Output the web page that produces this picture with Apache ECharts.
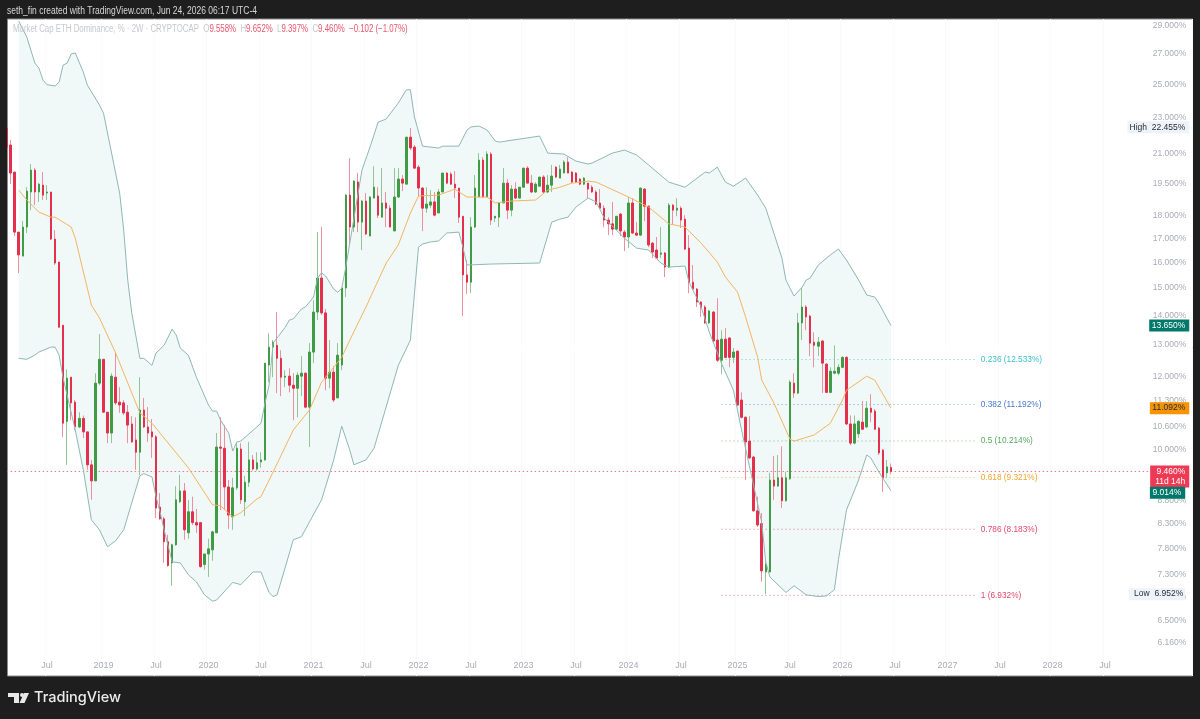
<!DOCTYPE html>
<html>
<head>
<meta charset="utf-8">
<title>ETH Dominance</title>
<script src="https://cdn.jsdelivr.net/npm/echarts@6/dist/echarts.min.js"></script>
<style>html,body{margin:0;padding:0;background:#1e1e1e}#chart{width:1200px;height:719px}</style>
</head>
<body>
<div id="chart"></div>
<script>
// Two-week bars of ETH dominance, in percent
const opens = [22.40,21.48,20.07,17.26,16.25,17.48,19.09,20.17,19.09,19.42,
19.04,19.09,16.96,16.01,13.66,10.73,11.99,11.26,10.58,10.81,
10.45,9.62,9.24,11.81,12.54,10.98,10.42,11.99,11.26,11.24,
10.98,10.66,10.24,9.93,11.04,10.58,10.45,10.32,8.65,8.40,
7.93,7.52,7.87,8.77,9.01,8.11,8.55,8.32,8.32,7.49,
7.69,7.77,8.11,10.06,10.03,9.10,8.44,9.08,10.01,8.77,
9.21,9.74,9.52,9.69,9.74,12.36,12.93,12.99,12.57,11.99,
12.02,11.75,11.66,12.02,12.11,11.12,12.77,14.12,15.38,14.09,
11.96,12.14,11.38,12.36,15.00,18.94,17.48,19.57,17.70,18.66,
17.09,18.80,18.90,17.92,18.57,18.33,17.31,18.85,19.72,19.47,
21.91,21.37,20.32,19.28,18.33,18.47,18.62,18.11,19.09,20.02,
19.97,19.47,19.28,17.96,15.50,15.22,17.48,18.85,20.68,18.85,
21.00,17.88,17.92,18.57,19.52,18.24,19.23,18.80,19.32,20.27,
19.52,19.09,19.37,19.82,19.09,19.42,20.32,19.77,20.02,20.58,
20.07,20.02,19.72,19.47,19.52,19.32,19.09,18.57,18.33,17.79,
17.62,17.39,18.06,17.26,17.05,18.57,17.22,17.13,19.23,18.42,
16.79,16.50,16.33,16.38,15.81,18.47,18.24,18.33,17.83,16.58,
15.22,14.96,14.48,14.30,13.74,14.12,13.16,12.51,13.19,13.23,
12.60,12.80,11.32,10.84,10.21,9.81,8.57,8.30,7.35,7.35,
9.26,9.12,9.31,8.79,9.29,11.81,11.52,13.74,14.30,13.98,
13.09,12.96,13.13,12.39,11.54,12.11,12.11,12.29,12.60,10.66,
10.16,10.40,10.71,10.58,11.09,11.01,10.55,9.98,9.43,9.558];
const closes = [21.37,20.02,17.26,16.30,17.48,19.13,20.17,19.09,19.47,18.94,
19.09,16.96,15.97,13.59,10.68,11.96,11.24,10.58,10.81,10.45,
9.62,9.24,11.81,12.54,10.98,10.42,12.02,11.24,11.18,10.96,
10.63,10.19,9.93,11.04,10.58,10.42,10.32,8.63,8.40,7.93,
7.47,7.87,8.81,9.01,8.17,8.55,8.32,8.27,7.45,7.69,
7.79,8.13,10.06,10.03,9.10,8.48,9.08,10.03,8.81,9.21,
9.74,9.52,9.67,9.74,12.42,12.93,13.09,12.57,11.99,12.02,
11.75,11.66,12.05,12.11,11.12,12.77,14.12,15.38,14.09,11.96,
12.14,11.32,12.67,15.00,18.94,17.48,19.62,17.70,18.66,17.18,
18.85,19.32,18.01,18.57,18.33,17.48,18.85,19.72,19.52,21.91,
21.32,20.27,19.28,18.33,18.52,18.62,18.01,19.09,20.02,19.52,
19.47,19.28,17.92,15.50,15.22,17.48,19.28,20.68,18.85,21.00,
17.79,17.96,18.57,19.52,18.24,19.23,18.80,19.32,20.27,19.52,
19.09,19.47,19.82,19.09,19.42,19.87,19.82,20.22,20.58,20.02,
19.57,19.57,19.47,19.77,19.23,19.09,18.52,18.33,17.79,17.62,
17.39,17.96,17.31,17.05,18.57,17.22,17.13,19.28,18.42,16.71,
16.42,16.17,16.38,15.81,18.47,18.24,18.33,17.79,16.54,15.22,
14.96,14.48,14.30,13.74,14.16,13.13,12.51,13.19,12.60,12.60,
12.77,11.18,10.84,10.19,9.79,8.57,8.27,7.37,7.49,9.26,
9.12,9.31,8.79,9.31,11.84,11.52,13.74,14.30,13.95,13.06,
12.99,13.09,12.42,11.54,12.17,12.17,12.29,12.60,10.66,10.16,
10.66,10.73,10.52,11.09,10.98,10.52,9.91,9.31,9.57,9.46];
const lows = [21.21,19.47,17.09,15.57,16.25,17.22,18.24,18.47,18.62,18.71,
18.71,16.92,15.89,13.59,10.32,9.62,10.76,10.50,10.55,10.29,
9.50,8.81,9.24,11.75,10.96,10.16,10.16,11.18,10.96,10.90,
10.16,10.16,9.50,9.38,10.55,10.19,9.79,8.42,8.38,7.52,
7.45,7.10,7.85,8.74,7.97,7.99,8.27,8.11,7.43,7.39,
7.26,7.56,8.11,8.59,8.59,8.19,8.17,9.03,8.72,8.46,
9.10,9.48,9.48,9.55,9.72,11.84,11.99,11.52,11.43,11.69,
11.54,10.76,10.84,11.43,11.09,10.06,12.42,13.84,14.02,11.60,
11.66,11.26,11.38,12.20,14.66,16.79,17.26,17.26,16.50,17.13,
17.09,18.80,17.88,17.92,17.48,17.48,17.31,18.80,19.13,19.47,
21.21,20.22,18.90,17.31,18.11,18.33,17.96,18.11,19.09,19.47,
19.42,18.80,17.66,13.98,14.77,14.81,17.44,18.85,18.80,18.85,
17.57,17.70,17.48,18.57,17.83,17.96,18.76,18.80,19.32,19.52,
19.04,19.04,19.37,19.04,19.04,19.09,19.77,19.77,20.02,20.02,
19.52,19.52,19.42,19.42,18.80,19.04,18.47,18.29,17.48,17.13,
17.13,17.35,17.09,16.46,16.58,17.18,17.09,17.09,17.75,16.62,
16.17,16.17,16.17,15.42,15.77,17.57,17.96,17.44,16.50,14.81,
14.92,14.30,13.95,13.70,13.70,13.09,12.45,12.08,12.57,12.29,
12.42,11.15,10.81,9.26,9.76,8.55,8.23,7.17,6.952,7.34,
8.81,9.10,8.63,8.77,9.26,11.38,11.49,13.16,13.49,12.64,
12.29,12.64,11.52,11.52,11.52,12.08,12.05,12.26,10.63,10.11,
10.13,10.29,10.50,10.55,10.71,10.50,9.86,8.99,9.31,9.397];
const highs = [22.455,21.75,20.07,17.26,17.75,19.32,20.48,20.27,19.52,20.07,
19.42,19.09,17.35,16.01,13.66,12.23,11.99,11.32,10.98,10.89,
10.45,9.74,12.11,13.36,12.54,10.98,12.11,12.77,11.69,11.32,
11.18,10.87,10.84,11.99,11.38,11.12,10.79,10.37,8.96,8.44,
8.07,7.89,9.12,9.38,9.19,8.81,8.88,8.61,8.32,7.69,
7.99,8.15,10.42,10.84,10.63,9.26,9.31,10.16,10.16,9.36,
10.19,9.86,9.93,9.93,12.42,13.39,13.16,14.12,12.83,12.20,
12.26,12.11,12.14,12.64,12.14,13.06,14.55,17.26,17.48,14.23,
13.16,12.32,13.06,15.00,18.99,20.78,19.67,20.02,18.71,19.04,
18.90,20.37,19.32,20.27,19.09,18.47,20.27,20.27,19.92,21.91,
22.42,21.48,20.43,19.32,19.32,19.18,19.09,19.23,20.02,20.07,
20.07,20.12,19.28,17.96,16.09,17.92,19.92,21.05,20.83,21.15,
21.10,17.96,18.57,20.27,19.72,19.42,19.57,19.32,20.27,20.37,
19.92,19.57,19.82,19.92,19.92,20.43,20.37,20.43,20.68,20.83,
20.12,20.07,19.77,19.82,19.52,19.42,19.18,19.23,18.47,17.92,
18.62,17.96,18.11,17.35,18.85,18.80,17.70,19.28,19.28,18.47,
16.84,17.05,17.48,16.42,18.57,18.52,18.80,18.42,18.01,17.13,
15.89,15.00,14.52,14.37,14.19,14.16,14.62,13.49,13.56,13.26,
12.90,12.80,11.54,10.87,10.87,9.84,8.88,8.52,7.60,9.43,
9.84,9.86,10.08,9.45,11.90,12.11,14.09,15.00,14.37,14.02,
13.42,13.26,13.16,12.42,12.29,12.99,12.39,12.64,12.64,10.89,
10.89,10.76,11.29,11.29,11.49,11.07,10.58,10.01,9.74,9.652];

// Bollinger band and its middle average: [bar index, percent]
const bbUpper = [[3,29.33],[5,28.17],[7,26.39],[8,26.06],[9,25.29],[10,25.0],[12,24.91],[13,25.16],[14,26.26],[15,26.39],[16,27.0],[17,27.07],[19,25.8],[20,24.97],[23,23.75],[24,23.27],[26,21.05],[28,19.04],[29,17.35],[30,15.30],[31,14.09],[33,12.57],[34,12.57],[36,12.35],[37,12.74],[39,12.99],[41,13.53],[42,13.33],[43,12.90],[45,12.67],[47,11.99],[50,11.18],[51,11.01],[52,11.01],[53,10.76],[55,10.42],[56,9.96],[57,10.19],[58,10.21],[63,10.68],[64,11.24],[65,11.75],[66,13.06],[69,13.59],[70,13.84],[71,13.88],[73,14.23],[74,14.30],[76,14.66],[77,15.38],[78,15.58],[79,15.46],[81,14.96],[82,14.84],[83,15.0],[84,15.81],[88,20.17],[90,21.37],[92,22.75],[94,22.93],[97,23.87],[99,24.68],[100,24.68],[101,23.05],[103,21.42],[107,21.32],[108,21.42],[112,21.42],[114,22.30],[115,22.48],[117,22.53],[119,22.30],[121,21.70],[122,21.64],[132,21.97],[134,21.05],[138,21.00],[141,20.63],[144,20.48],[145,20.53],[150,21.05],[153,21.21],[156,20.95],[159,20.43],[164,19.57],[168,19.32],[173,20.07],[174,20.02],[176,20.32],[178,19.57],[180,19.37],[183,19.77],[186,18.94],[188,18.33],[190,17.22],[192,16.17],[193,15.30],[195,14.70],[197,15.03],[198,15.30],[199,15.38],[201,15.89],[204,16.30],[206,16.54],[208,16.09],[211,15.30],[213,14.74],[215,14.66],[216,14.44],[219,13.65]];
const bbLower = [[3,12.57],[5,12.54],[7,12.67],[8,12.77],[11,12.93],[12,12.93],[13,12.67],[14,11.96],[17,10.50],[19,9.50],[21,8.38],[23,8.17],[25,7.83],[27,7.95],[29,8.17],[33,9.36],[34,9.41],[36,9.33],[37,8.88],[38,8.55],[39,8.17],[41,7.54],[43,7.52],[45,7.30],[47,7.17],[49,6.94],[51,6.83],[52,6.85],[56,7.16],[58,7.12],[61,7.35],[63,7.35],[65,6.98],[66,6.91],[67,6.94],[71,7.97],[73,8.03],[78,8.81],[81,9.74],[83,10.60],[85,9.98],[86,9.62],[89,9.74],[91,10.03],[97,12.35],[100,13.16],[102,16.62],[103,16.75],[105,16.84],[107,16.88],[109,17.22],[112,17.26],[113,16.62],[114,15.89],[120,15.93],[132,15.97],[135,17.70],[137,17.83],[139,17.92],[141,18.38],[144,18.80],[146,18.62],[148,17.88],[151,17.35],[153,17.00],[156,16.58],[159,16.50],[162,15.97],[164,15.81],[168,15.85],[169,15.22],[172,14.30],[174,13.43],[177,12.42],[180,11.60],[182,10.50],[184,9.57],[187,8.32],[188,7.54],[189,7.26],[193,6.98],[195,7.10],[198,6.94],[201,6.91],[203,6.92],[205,7.03],[206,7.58],[208,8.59],[211,9.26],[213,9.86],[214,9.79],[216,9.45],[219,9.014]];
const bbMiddle = [[3,19.18],[5,18.71],[8,18.15],[11,17.92],[12,17.92],[16,17.48],[17,17.0],[21,14.37],[23,13.91],[27,12.74],[33,10.96],[36,10.68],[45,9.55],[51,8.70],[53,8.68],[56,8.44],[58,8.53],[62,8.83],[63,8.88],[66,9.45],[71,10.50],[75,11.04],[78,11.84],[83,12.60],[85,13.16],[89,14.30],[94,15.97],[97,16.71],[100,18.11],[102,18.90],[107,18.94],[111,19.23],[114,18.85],[119,18.85],[121,18.57],[125,18.66],[131,18.71],[134,19.18],[137,19.32],[140,19.52],[144,19.62],[146,19.57],[154,18.85],[159,18.38],[164,17.62],[168,17.48],[172,16.79],[176,16.01],[178,15.42],[181,14.85],[183,13.95],[186,12.60],[187,11.90],[190,11.24],[194,10.26],[195,10.21],[200,10.37],[204,10.68],[207,11.32],[208,11.60],[213,12.02],[215,11.90],[219,11.092]];

// Fibonacci retracement levels
const fibRatios = ['0.236','0.382','0.5','0.618','0.786','1'];
const fibValues = [12.533,11.192,10.214,9.321,8.183,6.932];
const fibColors = ['#3cc0cc','#4a78cc','#56aa5c','#f2a530','#e0486a','#e0486a'];

// Axis ticks
const yTicks = [29,27,25,23,21,19.5,18,17,16,15,14,13,12,11.3,10.6,10,9.4,8.8,8.3,7.8,7.3,6.9,6.5,6.16];
const xTickBars = [10,24,37,50,63,76,89,102,115,128,141,154,167,181,194,207,220,233,246,259,272];
const xTickText = ['Jul','2019','Jul','2020','Jul','2021','Jul','2022','Jul','2023','Jul','2024','Jul','2025','Jul','2026','Jul','2027','Jul','2028','Jul'];

// Price scale tags: current close, band values, visible high and low
const lastClose = 9.46;
const tagUpper = 13.65, tagMiddle = 11.092, tagLower = 9.014;
const visibleHigh = 22.455, visibleLow = 6.952;

const DAY = 86400000;
const barCount = 294;
const lastBar = opens.length - 1;
const bars = [];
for (let k = 0; k < barCount; k++) {
  bars.push(new Date(Date.UTC(2026, 5, 22) + (k - lastBar) * 14 * DAY).toISOString().slice(0, 10));
}

const UP = '#3f9c45', DOWN = '#e5304d', UP_WICK = '#93c497', DOWN_WICK = '#ee8f9f';
const FONT = '"Liberation Sans", Arial, sans-serif';
const AXIS_GREY = '#a9acb5';
const SCALE_SIZE = 8.5;

const fullBars = opens.map((o, i) => [o, closes[i], lows[i], highs[i]]);
const bodyBars = opens.map((o, i) => [o, closes[i], Math.min(o, closes[i]), Math.max(o, closes[i])]);
const bandRing = bbUpper.concat(bbLower.slice().reverse());

// Dotted horizontal levels, each with its ratio label at the right end
const fibSeries = fibRatios.map((r, i) => ({
  type: 'line', name: 'Fib ' + r, z: 2, silent: true, symbol: 'none',
  data: [[177, fibValues[i]], [240, fibValues[i]]],
  lineStyle: { type: [1.5, 2.5], width: 1, color: fibColors[i], opacity: 0.5 },
  endLabel: {
    show: true, color: fibColors[i], distance: 5, fontSize: 8.3, fontFamily: FONT,
    formatter: r + ' (' + fibValues[i].toFixed(3) + '%)'
  }
}));

function tag(bar, value, text, bg, color, extra) {
  return {
    value: [bar, value],
    label: Object.assign({
      formatter: text, backgroundColor: bg, color: color,
      padding: [2, 4, 1, 2.5], lineHeight: 9
    }, extra || {})
  };
}

const option = {
  animation: false,
  backgroundColor: '#1e1e1e',
  textStyle: { fontFamily: FONT },
  grid: { left: 4.58, top: 19, width: 1187.2, height: 657, containLabel: false },
  xAxis: {
    type: 'category', data: bars, boundaryGap: true,
    axisLine: { show: false }, axisTick: { show: false },
    splitLine: { show: true, interval: i => xTickBars.includes(i), lineStyle: { color: '#fafafb' } },
    axisLabel: {
      inside: true, margin: 6, color: AXIS_GREY, fontSize: 9, fontFamily: FONT,
      interval: i => xTickBars.includes(i),
      formatter: (v, i) => xTickText[xTickBars.indexOf(i)]
    }
  },
  yAxis: {
    type: 'log', position: 'right', min: 5.66, max: 29.48, logBase: 10,
    axisLine: { show: false }, axisTick: { show: false }, splitLine: { show: false },
    axisLabel: {
      inside: true, margin: 5.5, color: AXIS_GREY, fontSize: SCALE_SIZE, fontFamily: FONT,
      customValues: yTicks, formatter: v => Number(v).toFixed(3) + '%'
    }
  },
  graphic: { elements: [
    { type: 'rect', z: 0, silent: true, shape: { x: 7.5, y: 19, width: 1185, height: 657 },
      style: { fill: '#ffffff', stroke: '#8c8c8c', lineWidth: 1 } },
    { type: 'rect', z: 100, silent: true, shape: { x: 0, y: 0, width: 7, height: 719 }, style: { fill: '#1e1e1e' } },
    { type: 'text', z: 101, silent: true, x: 7, y: 6.5, scaleX: 0.85, style: {
      text: 'seth_fin created with TradingView.com, Jun 24, 2026 06:17 UTC-4',
      fill: '#d8d8d8', font: '10px ' + FONT } },
    { type: 'text', z: 101, silent: true, x: 13, y: 24, scaleX: 0.785, style: {
      text: '{n|Market Cap ETH Dominance, % · 2W · CRYPTOCAP  O}{v|9.558%}{n|  H}{v|9.652%}{n|  L}{v|9.397%}{n|  C}{v|9.460%}{v|  −0.102 (−1.07%)}',
      font: '10px ' + FONT,
      rich: { n: { fill: '#c6c8ce', fontSize: 10, fontFamily: FONT }, v: { fill: '#e8566c', fontSize: 10, fontFamily: FONT } } } },
    // brand mark
    { type: 'polygon', z: 101, silent: true, shape: { points: [[8,693],[19,693],[19,703],[14,703],[14,697],[8,697]] }, style: { fill: '#e8e8e8' } },
    { type: 'circle', z: 101, silent: true, shape: { cx: 22, cy: 695, r: 2 }, style: { fill: '#e8e8e8' } },
    { type: 'polygon', z: 101, silent: true, shape: { points: [[24,693],[29,693],[24.5,703],[19.5,703]] }, style: { fill: '#e8e8e8' } },
    { type: 'text', z: 101, silent: true, x: 34, y: 690, style: {
      text: 'TradingView', fill: '#ececec', font: '500 14.5px "Inter", ' + FONT } }
  ] },
  series: [
    { // band fill between the upper and lower lines
      type: 'custom', name: 'Band', z: 1, silent: true, data: bandRing,
      encode: { x: 0, y: 1 },
      renderItem: (params, api) => params.dataIndex !== 0 ? null : {
        type: 'polygon',
        shape: { points: bandRing.map(p => api.coord(p)) },
        style: { fill: '#f0f8f8' }
      }
    },
    ...fibSeries,
    { type: 'line', name: 'Close', z: 2, silent: true, symbol: 'none',
      data: [[0, lastClose], [286, lastClose]],
      lineStyle: { type: [1.5, 2.5], width: 1, color: '#f2788c', opacity: 1 } },
    { type: 'candlestick', name: 'Wicks', z: 3, barWidth: 1, data: fullBars, silent: true,
      itemStyle: { color: UP_WICK, color0: DOWN_WICK, borderColor: UP_WICK, borderColor0: DOWN_WICK, borderWidth: 1 } },
    { type: 'candlestick', name: 'ETH Dominance', z: 4, barWidth: 2, data: bodyBars, silent: true,
      itemStyle: { color: UP, color0: DOWN, borderColor: UP, borderColor0: DOWN, borderWidth: 1 } },
    { type: 'line', name: 'Upper', z: 5, data: bbUpper, symbol: 'none', silent: true, lineStyle: { color: '#8fb8b2', width: 1 } },
    { type: 'line', name: 'Lower', z: 5, data: bbLower, symbol: 'none', silent: true, lineStyle: { color: '#8fb8b2', width: 1 } },
    { type: 'line', name: 'Basis', z: 5, data: bbMiddle, symbol: 'none', silent: true, lineStyle: { color: '#f4b563', width: 1 } },
    { type: 'scatter', name: 'Tags', z: 20, silent: true, symbolSize: 1, itemStyle: { color: 'transparent' },
      label: { show: true, position: 'left', distance: 0, fontSize: SCALE_SIZE, fontFamily: FONT, opacity: 1 },
      data: [
        tag(293, tagUpper, '13.650%', '#00796b', '#ffffff'),
        tag(293, tagMiddle, '11.092%', '#f59300', '#2a2e39'),
        tag(293, lastClose, '9.460%\n11d 14h', '#ee3a55', '#ffffff', { padding: [1, 4, 1, 5], lineHeight: 10, offset: [0, 5] }),
        tag(292, tagLower, '9.014%', '#00796b', '#ffffff', { offset: [0, 2] }),
        tag(293, visibleHigh, 'High  22.455%', '#eef3fa', '#2a2e39', { padding: [2, 4, 1, 2] }),
        tag(292, visibleLow, 'Low  6.952%', '#eef3fa', '#2a2e39', { padding: [2, 2, 1, 5] })
      ]
    }
  ]
};

const chart = echarts.init(document.getElementById('chart'), null, { renderer: 'canvas', width: 1200, height: 719 });
chart.setOption(option);
</script>
</body>
</html>
